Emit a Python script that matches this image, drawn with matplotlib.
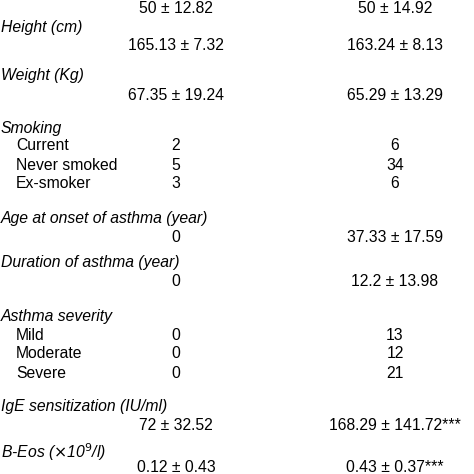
import matplotlib.pyplot as plt

plt.rcParams['font.family'] = ['Liberation Sans', 'DejaVu Sans']

# rows: (label, italic header?, col1, col2, y pixel)
labels = ["", "Height (cm)", "", "Weight (Kg)", "", "Smoking", "Current", "Never smoked", "Ex-smoker",
          "Age at onset of asthma (year)", "", "Duration of asthma (year)", "",
          "Asthma severity", "Mild", "Moderate", "Severe",
          "IgE sensitization (IU/ml)", "", r"B-Eos ($\times$10$^9$/l)", ""]
headers = [0, 1, 0, 1, 0, 1, 0, 0, 0, 1, 0, 1, 0, 1, 0, 0, 0, 1, 0, 1, 0]
col1 = ["50 ± 12.82", "", "165.13 ± 7.32", "", "67.35 ± 19.24", "", "2", "5", "3",
        "", "0", "", "0", "", "0", "0", "0", "", "72 ± 32.52", "", "0.12 ± 0.43"]
col2 = ["50 ± 14.92", "", "163.24 ± 8.13", "", "65.29 ± 13.29", "", "6", "34", "6",
        "", "37.33 ± 17.59", "", "12.2 ± 13.98", "", "13", "12", "21", "", "168.29 ± 141.72***", "", "0.43 ± 0.37***"]
ypix = [8, 27, 45, 75, 95, 128, 146, 165, 184, 218, 237, 263, 282, 316, 335, 354, 373, 407, 426, 452, 467]

fig = plt.figure(figsize=(4.74, 4.74), dpi=100)
ax = fig.add_axes([0, 0, 1, 1])
ax.set_xlim(0, 474)
ax.set_ylim(474, 0)
ax.axis('off')

for lab, h, a, b, y in zip(labels, headers, col1, col2, ypix):
    if lab:
        x = 1 if h else 16
        ax.text(x, y, lab, fontsize=11.3, style='italic' if h else 'normal', va='center', ha='left')
    if a:
        ax.text(176, y, a, fontsize=11.3, va='center', ha='center')
    if b:
        ax.text(395, y, b, fontsize=11.3, va='center', ha='center')

fig.savefig('out.png', dpi=100)
